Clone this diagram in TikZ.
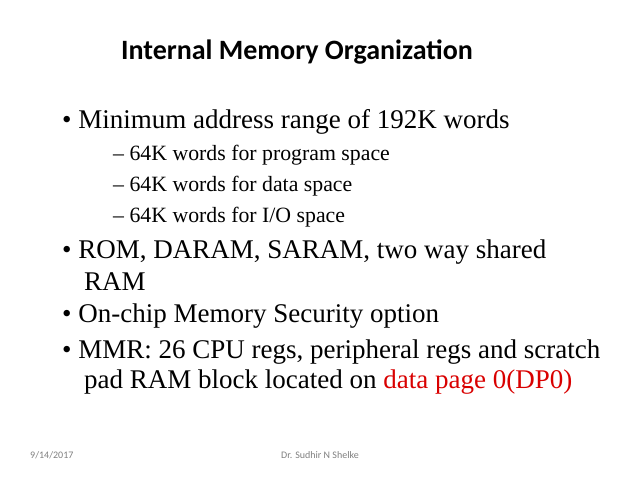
\documentclass[tikz,border=0pt]{standalone}
\usepackage{fontspec}
\setmainfont{Liberation Serif}
\newfontfamily\carlitofont{Carlito}
\begin{document}
\begin{tikzpicture}[x=1pt,y=-1pt,
  body/.style={anchor=west,inner sep=0pt,font=\fontsize{27}{27}\selectfont},
  sub/.style={anchor=west,inner sep=0pt,font=\fontsize{21.8}{22}\selectfont},
  foot/.style={inner sep=0pt,text=gray,font=\carlitofont\fontsize{10}{10}\selectfont}]
\useasboundingbox[fill=white] (0,0) rectangle (638,478);
\node[inner sep=0pt,font=\carlitofont\bfseries\fontsize{28}{28}\selectfont] (t) at (297,52) {Internal Memory Organization};
\node[body] (b1) at (62,122) {\textbullet\ Minimum address range of 192K words};
\node[sub] (s1) at (113,155) {-- 64K words for program space};
\node[sub] (s2) at (113,186) {-- 64K words for data space};
\node[sub] (s3) at (113,217) {-- 64K words for I/O space};
\node[body] (b2) at (62,252) {\textbullet\ ROM, DARAM, SARAM, two way shared};
\node[body] (b2b) at (84,282) {RAM};
\node[body] (b3) at (62,316) {\textbullet\ On-chip Memory Security option};
\node[body] (b4) at (62,352) {\textbullet\ MMR: 26 CPU regs, peripheral regs and scratch};
\node[body] (b4b) at (84,382) {pad RAM block located on \textcolor{red!85!black}{data page 0(DP0)}};
\node[foot,anchor=west] (f1) at (30,455) {9/14/2017};
\node[foot] (f2) at (320,455) {Dr. Sudhir N Shelke};
\end{tikzpicture}
\end{document}
